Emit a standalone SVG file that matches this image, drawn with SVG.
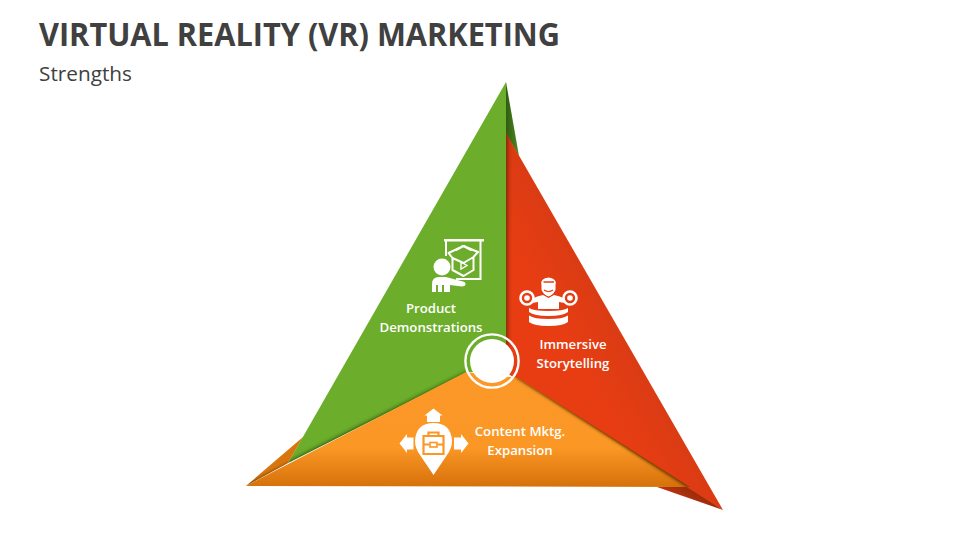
<svg xmlns="http://www.w3.org/2000/svg" width="960" height="540" viewBox="0 0 960 540">
<style>
.t{font-family:"Open Sans","Liberation Sans",sans-serif}
.l{font-family:"Open Sans","Liberation Sans",sans-serif;font-size:13.2px;font-weight:600;fill:#fff;text-anchor:middle}
.w{fill:#fff}
.o{fill:none;stroke:#fff}
</style>
<defs>
<linearGradient id="gO" x1="0" y1="0" x2="0" y2="1"><stop offset="0" stop-color="#fc9828"/><stop offset=".66" stop-color="#fb9725"/><stop offset="1" stop-color="#d5710a"/></linearGradient>
<linearGradient id="gR" gradientUnits="userSpaceOnUse" x1="565" y1="345" x2="650" y2="296"><stop offset="0" stop-color="#e83d13"/><stop offset="1" stop-color="#d03a14"/></linearGradient>
<linearGradient id="gF" gradientUnits="userSpaceOnUse" x1="506" y1="0" x2="519" y2="0"><stop offset="0" stop-color="#2f5c12"/><stop offset="1" stop-color="#528a22"/></linearGradient>
<linearGradient id="gF2" gradientUnits="userSpaceOnUse" x1="672" y1="505" x2="685" y2="482"><stop offset="0" stop-color="#d13a10"/><stop offset="1" stop-color="#8f2a0a"/></linearGradient>
<filter id="b2" filterUnits="userSpaceOnUse" x="0" y="0" width="960" height="540"><feGaussianBlur stdDeviation="2"/></filter>
<filter id="b1" filterUnits="userSpaceOnUse" x="0" y="0" width="960" height="540"><feGaussianBlur stdDeviation="1.5"/></filter>
<clipPath id="cR"><polygon points="506,133 723,510 517,380 506,372"/></clipPath>
<clipPath id="cG"><polygon points="506,82 288,463 468,372 506,372"/></clipPath>
<clipPath id="cO"><polygon points="246,486 466,372 518,378 690,487"/></clipPath>
<clipPath id="cD"><polygon points="246,486 303,437 288,463"/></clipPath>
</defs>
<text class="t" x="39" y="46" font-size="33" font-weight="700" fill="#404040" textLength="521" lengthAdjust="spacingAndGlyphs">VIRTUAL REALITY (VR) MARKETING</text>
<text class="t" x="39" y="81" font-size="20" fill="#404040" textLength="93" lengthAdjust="spacingAndGlyphs">Strengths</text>

<g id="folds">
<polygon points="506,82 519,156 506,134" fill="url(#gF)"/>
<polygon points="246,486 303,437 288,463" fill="#d9750c"/>
<g clip-path="url(#cD)"><line x1="246" y1="488" x2="290" y2="465" stroke="#5c3204" stroke-width="5" filter="url(#b1)"/></g>
<polygon points="657,487 723,510 688,486" fill="url(#gF2)"/>
</g>
<g id="node-green">
<polygon points="506,82 288,463 468,372 506,372" fill="#6cae2b"/>
</g>
<g id="node-red">
<polygon points="506,133 723,510 517,380 506,372" fill="url(#gR)"/>
<g clip-path="url(#cR)"><line x1="505" y1="130" x2="505" y2="375" stroke="#6e2006" stroke-width="5" filter="url(#b2)"/></g>
</g>
<g id="node-orange">
<g clip-path="url(#cG)"><line x1="288" y1="466" x2="468" y2="375" stroke="#1f3d0a" stroke-width="6" filter="url(#b2)"/></g>
<polygon points="246,486 466,372 518,378 688,487" fill="url(#gO)"/>
<g clip-path="url(#cO)"><line x1="517" y1="376" x2="690" y2="487" stroke="#6e4204" stroke-width="4" filter="url(#b1)"/></g>
</g>
<g id="hub">
<circle cx="492" cy="361" r="26.6" fill="none" stroke="#fff" stroke-width="2.400"/>
<circle cx="492" cy="361" r="22" fill="#fff"/>
</g>

<g id="icon-product">
<rect x="444" y="239" width="40" height="2.500" class="w"/>
<path d="M446 241V256M480.500 241V279H456" class="o" stroke-width="2"/>
<path d="M463.500 246L478 252L473.500 257V270L463.500 276L452.500 270V258L448.500 253ZM452.500 258L463.500 263L473.500 257M463.500 246L456 250M463.500 246L471 250" class="o" stroke-width="2" stroke-linejoin="round"/>
<path d="M461 262V269L467 265.500Z" class="o" stroke-width="1.400"/>
<circle cx="442" cy="267" r="8.500" class="w"/>
<path d="M432 292V284Q432 277 439 277H446L463 281.500Q466 282.500 465.500 284.500Q465 286.500 462 286.500L450 285V292H444V285H442V292H438V285H436V292Z" class="w"/>
<text class="l" x="431" y="312.500">Product</text>
<text class="l" x="431" y="331.500">Demonstrations</text>
</g>

<g id="icon-immersive">
<path d="M542 290V285Q540 279 548.500 278Q557 279 555 285V290Q553 295 548.500 296Q544 295 542 290Z" class="w" stroke="#fff"/>
<path d="M543.500 282H554" stroke="#e83d13" stroke-width="1.500" fill="none"/>
<path d="M544 290Q548.500 293 553 290" stroke="#e83d13" stroke-width="1.200" fill="none"/>
<path d="M538 309V302L532 303V299Q537 296 543 295L548.500 298L554 295Q560 296 565 299V303L559 302V309Z" class="w"/>
<circle cx="527" cy="298" r="6.500" class="o" stroke-width="2.600"/><circle cx="527" cy="298" r="2.800" class="w"/>
<circle cx="570" cy="298" r="6.500" class="o" stroke-width="2.600"/><circle cx="570" cy="298" r="2.800" class="w"/>
<path d="M529 308V312Q534 316 548.500 316Q563 316 568 312V308Q564 311 548.500 311Q533 311 529 308Z" class="w"/>
<path d="M529 315.500Q534 319 548.500 319Q563 319 568 315.500V322Q563 326 548.500 326Q534 326 529 322Z" class="w"/>
<text class="l" x="573" y="348.500">Immersive</text>
<text class="l" x="573" y="367.500">Storytelling</text>
</g>

<g id="icon-content">
<path d="M433.500 475L420 455Q415 448 415 441Q416 423 433.500 423Q451 423 452 441Q452 448 447 455Z" class="w"/>
<path d="M427 422V415.500H424.500L433.500 408.500L442.500 415.500H440V422Z" class="w"/>
<path d="M407 434V437.500H413.500V449.500H407V453L399.500 443.500Z" class="w"/>
<path d="M461 434V437.500H454V449.500H461V453L468.500 443.500Z" class="w"/>
<path d="M423.500 436H443.500V454H423.500ZM428.500 436V432.500H438.500V436M423.500 444.500H429.500M437.500 444.500H443.500" fill="none" stroke="#fb9725" stroke-width="2.200"/>
<rect x="430" y="442.500" width="7" height="4.500" fill="none" stroke="#fb9725" stroke-width="1.600"/>
<text class="l" x="520" y="435.500">Content Mktg.</text>
<text class="l" x="520" y="454.500">Expansion</text>
</g>
</svg>
